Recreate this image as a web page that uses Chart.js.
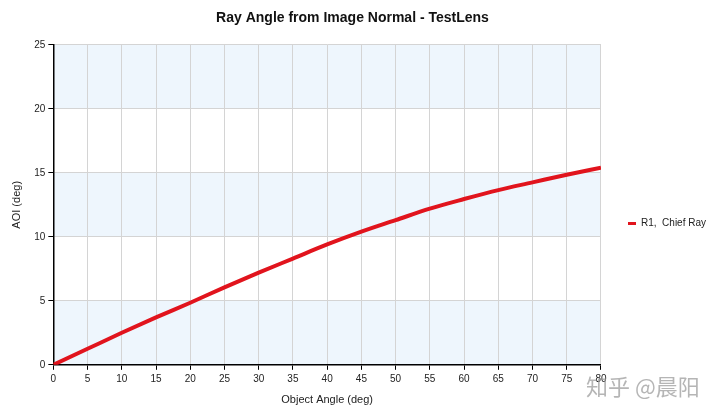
<!DOCTYPE html>
<html>
<head>
<meta charset="utf-8">
<script src="https://cdn.jsdelivr.net/npm/chart.js@4/dist/chart.umd.min.js"></script>
<style>
  html, body { margin: 0; padding: 0; background: #fff; }
  #wrap { position: relative; width: 720px; height: 412px; }
  #mark {
    position: absolute; left: 586px; top: 369px;
    font-family: "Noto Sans CJK SC", sans-serif; font-size: 22px;
    color: rgba(150,150,150,0.7); white-space: nowrap;
  }
</style>
</head>
<body>
<div id="wrap">
  <canvas id="aoiChart" width="720" height="412"></canvas>
  <div id="mark">知乎 @晨阳</div>
</div>
<script>
// Chart data
const objectAngles = [0, 5, 10, 15, 20, 25, 30, 35, 40, 45, 50, 55, 60, 65, 70, 75, 80];
const chiefRayAoi = [0, 1.25, 2.5, 3.7, 4.85, 6.05, 7.2, 8.3, 9.4, 10.4, 11.3, 12.2, 12.95, 13.65, 14.25, 14.85, 15.4];
const seriesLabel = 'R1,  Chief Ray';
const yTicks = [0, 5, 10, 15, 20, 25];

const FONT = '"Liberation Sans", Arial, sans-serif';

// light blue bands behind every other y interval
const bandPlugin = {
    id: 'bands',
    beforeDraw(chart) {
        const { ctx, chartArea, scales } = chart;
        ctx.save();
        ctx.fillStyle = '#eef6fd';
        for (let i = 0; i < yTicks.length - 1; i += 2) {
            const top = scales.y.getPixelForValue(yTicks[i + 1]);
            const bottom = scales.y.getPixelForValue(yTicks[i]);
            ctx.fillRect(chartArea.left, top, chartArea.right - chartArea.left, bottom - top);
        }
        ctx.restore();
    }
};

// nudge the legend away from the plot, like the original
const legendShift = {
    id: 'legendShift',
    afterLayout(chart) {
        const lg = chart.legend;
        if (!lg) return;
        lg.left += 17; lg.right += 17;
        lg.top += 16; lg.bottom += 16;
    }
};

const chart = new Chart(document.getElementById('aoiChart'), {
    type: 'line',
    data: {
        datasets: [{
            label: seriesLabel,
            data: objectAngles.map((a, i) => ({ x: a, y: chiefRayAoi[i] })),
            borderColor: '#e1141d',
            backgroundColor: '#e1141d',
            borderWidth: 4,
            pointRadius: 0,
            tension: 0.4,
            cubicInterpolationMode: 'monotone'
        }]
    },
    options: {
        responsive: false,
        animation: false,
        layout: { padding: { top: 4, right: 21, left: 6, bottom: 1 } },
        plugins: {
            title: {
                display: true,
                text: 'Ray Angle from Image Normal - TestLens',
                color: '#111',
                font: { family: FONT, size: 14, weight: 'bold' },
                padding: { top: 6, bottom: 18 }
            },
            legend: {
                position: 'right',
                labels: {
                    boxWidth: 8,
                    boxHeight: 3,
                    color: '#222',
                    padding: 10,
                    font: { family: FONT, size: 10 },
                    generateLabels(chart) {
                        const items = Chart.defaults.plugins.legend.labels.generateLabels(chart);
                        items.forEach(it => { it.lineWidth = 0; });
                        return items;
                    }
                }
            },
            tooltip: { enabled: false }
        },
        scales: {
            x: {
                type: 'linear',
                min: 0,
                max: 80,
                ticks: { stepSize: 5, color: '#222', font: { family: FONT, size: 10 }, padding: 3 },
                grid: { color: '#d4d4d4', tickColor: '#000', tickLength: 5 },
                border: { color: '#000', width: 1.5 },
                title: { display: true, text: 'Object Angle (deg)', color: '#222', font: { family: FONT, size: 11 }, padding: { top: 6 } }
            },
            y: {
                min: 0,
                max: 25,
                ticks: { stepSize: 5, color: '#222', font: { family: FONT, size: 10 }, padding: 3 },
                grid: { color: '#d4d4d4', tickColor: '#000', tickLength: 5 },
                border: { color: '#000', width: 1.5 },
                title: { display: true, text: 'AOI (deg)', color: '#222', font: { family: FONT, size: 11 }, padding: { bottom: 8 } }
            }
        }
    },
    plugins: [bandPlugin, legendShift]
});
</script>
</body>
</html>
